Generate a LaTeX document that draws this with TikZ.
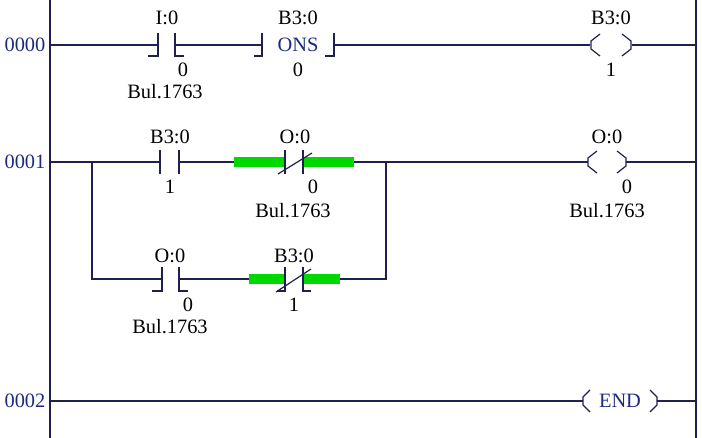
\documentclass[tikz,border=0pt]{standalone}
\usepackage{fontspec}
\setmainfont{Liberation Serif}
\begin{document}
\begin{tikzpicture}[x=0.75pt,y=-0.75pt,
  wire/.style={draw=navy,line width=0.9pt},
  lbl/.style={font=\fontsize{15.3}{17}\selectfont,text=black,inner sep=0pt},
  blbl/.style={font=\fontsize{15.3}{17}\selectfont,text=navyt,inner sep=0pt},
  grn/.style={draw=green!85!black,line width=7.5pt}]
\definecolor{navy}{HTML}{202050}
\definecolor{navyt}{HTML}{1E2A80}
\useasboundingbox (0,0) rectangle (702,438);
\fill[white] (0,0) rectangle (702,438);
% rails
\draw[wire] (50,0) -- (50,438);
\draw[wire] (696,0) -- (696,438);
% rung numbers
\node[blbl] (n0) at (25,45) {0000};
\node[blbl] (n1) at (25,162) {0001};
\node[blbl] (n2) at (25,401) {0002};
% ---- rung 0
\coordinate (r0a) at (50,45);
\coordinate (c1l) at (158,45); \coordinate (c1r) at (175,45);
\draw[wire] (r0a) -- (c1l);
\draw[wire] (148,56) -- (158,56) -- (158,33);
\draw[wire] (184,56) -- (175,56) -- (175,33);
\coordinate (o1l) at (262,45); \coordinate (o1r) at (334,45);
\draw[wire] (c1r) -- (o1l);
\draw[wire] (254,56) -- (262,56) -- (262,33);
\draw[wire] (325,56) -- (334,56) -- (334,33);
\node[blbl] (ons) at (298,45) {ONS};
\coordinate (k1l) at (590,45); \coordinate (k1r) at (632,45);
\draw[wire] (o1r) -- (k1l);
\draw[wire] (600,34) -- (591,41) -- (591,49) -- (600,56);
\draw[wire] (622,34) -- (631,41) -- (631,49) -- (622,56);
\draw[wire] (k1r) -- (696,45);
\node[lbl] (t1) at (167,18) {I:0};
\node[lbl] (t2) at (183,70) {0};
\node[lbl] (t3) at (165,92) {Bul.1763};
\node[lbl] (t4) at (298,18) {B3:0};
\node[lbl] (t5) at (298,70) {0};
\node[lbl] (t6) at (611,18) {B3:0};
\node[lbl] (t7) at (611,70) {1};
% ---- rung 1
\coordinate (b1l) at (92,162); \coordinate (b1r) at (386,162);
\draw[wire] (50,162) -- (160,162);
\draw[wire] (160,150) -- (160,174); \draw[wire] (179,150) -- (179,174);
\draw[wire] (179,162) -- (285,162);
\draw[wire] (303,162) -- (588,162);
\draw[wire] (597,151) -- (588,158) -- (588,166) -- (597,173);
\draw[wire] (617,151) -- (626,158) -- (626,166) -- (617,173);
\draw[wire] (626,162) -- (696,162);
\node[lbl] (t8) at (170,137) {B3:0};
\node[lbl] (t9) at (170,187) {1};
\node[lbl] (t10) at (295,137) {O:0};
\node[lbl] (t11) at (313,187) {0};
\node[lbl] (t12) at (293,211) {Bul.1763};
\node[lbl] (t13) at (607,137) {O:0};
\node[lbl] (t14) at (627,187) {0};
\node[lbl] (t15) at (607,211) {Bul.1763};
% branch
\draw[wire] (b1l) -- (92,279) -- (162,279);
\draw[wire] (152,291) -- (162,291) -- (162,267);
\draw[wire] (188,291) -- (179,291) -- (179,267);
\draw[wire] (179,279) -- (285,279);
\draw[wire] (303,279) -- (386,279) -- (b1r);
\node[lbl] (t16) at (170,256) {O:0};
\node[lbl] (t17) at (188,305) {0};
\node[lbl] (t18) at (170,327) {Bul.1763};
\node[lbl] (t19) at (294,256) {B3:0};
\node[lbl] (t20) at (294,305) {1};
% green highlights over wires
\draw[grn] (234,162) -- (284,162);
\draw[grn] (304,162) -- (354,162);
\draw[grn] (249,279) -- (284,279);
\draw[grn] (304,279) -- (340,279);
% NC contacts on top
\draw[wire] (285,150) -- (285,174); \draw[wire] (303,150) -- (303,174);
\draw[wire] (278,174) -- (312,153);
\draw[wire] (285,267) -- (285,291) -- (277,291);
\draw[wire] (303,267) -- (303,291) -- (311,291);
\draw[wire] (276,292) -- (311,269);
% ---- rung 2
\draw[wire] (50,401) -- (583,401);
\draw[wire] (590,390) -- (583,397) -- (583,405) -- (590,412);
\node[blbl] (endt) at (620,401) {END};
\draw[wire] (650,390) -- (657,397) -- (657,405) -- (650,412);
\draw[wire] (657,401) -- (696,401);
\end{tikzpicture}
\end{document}
